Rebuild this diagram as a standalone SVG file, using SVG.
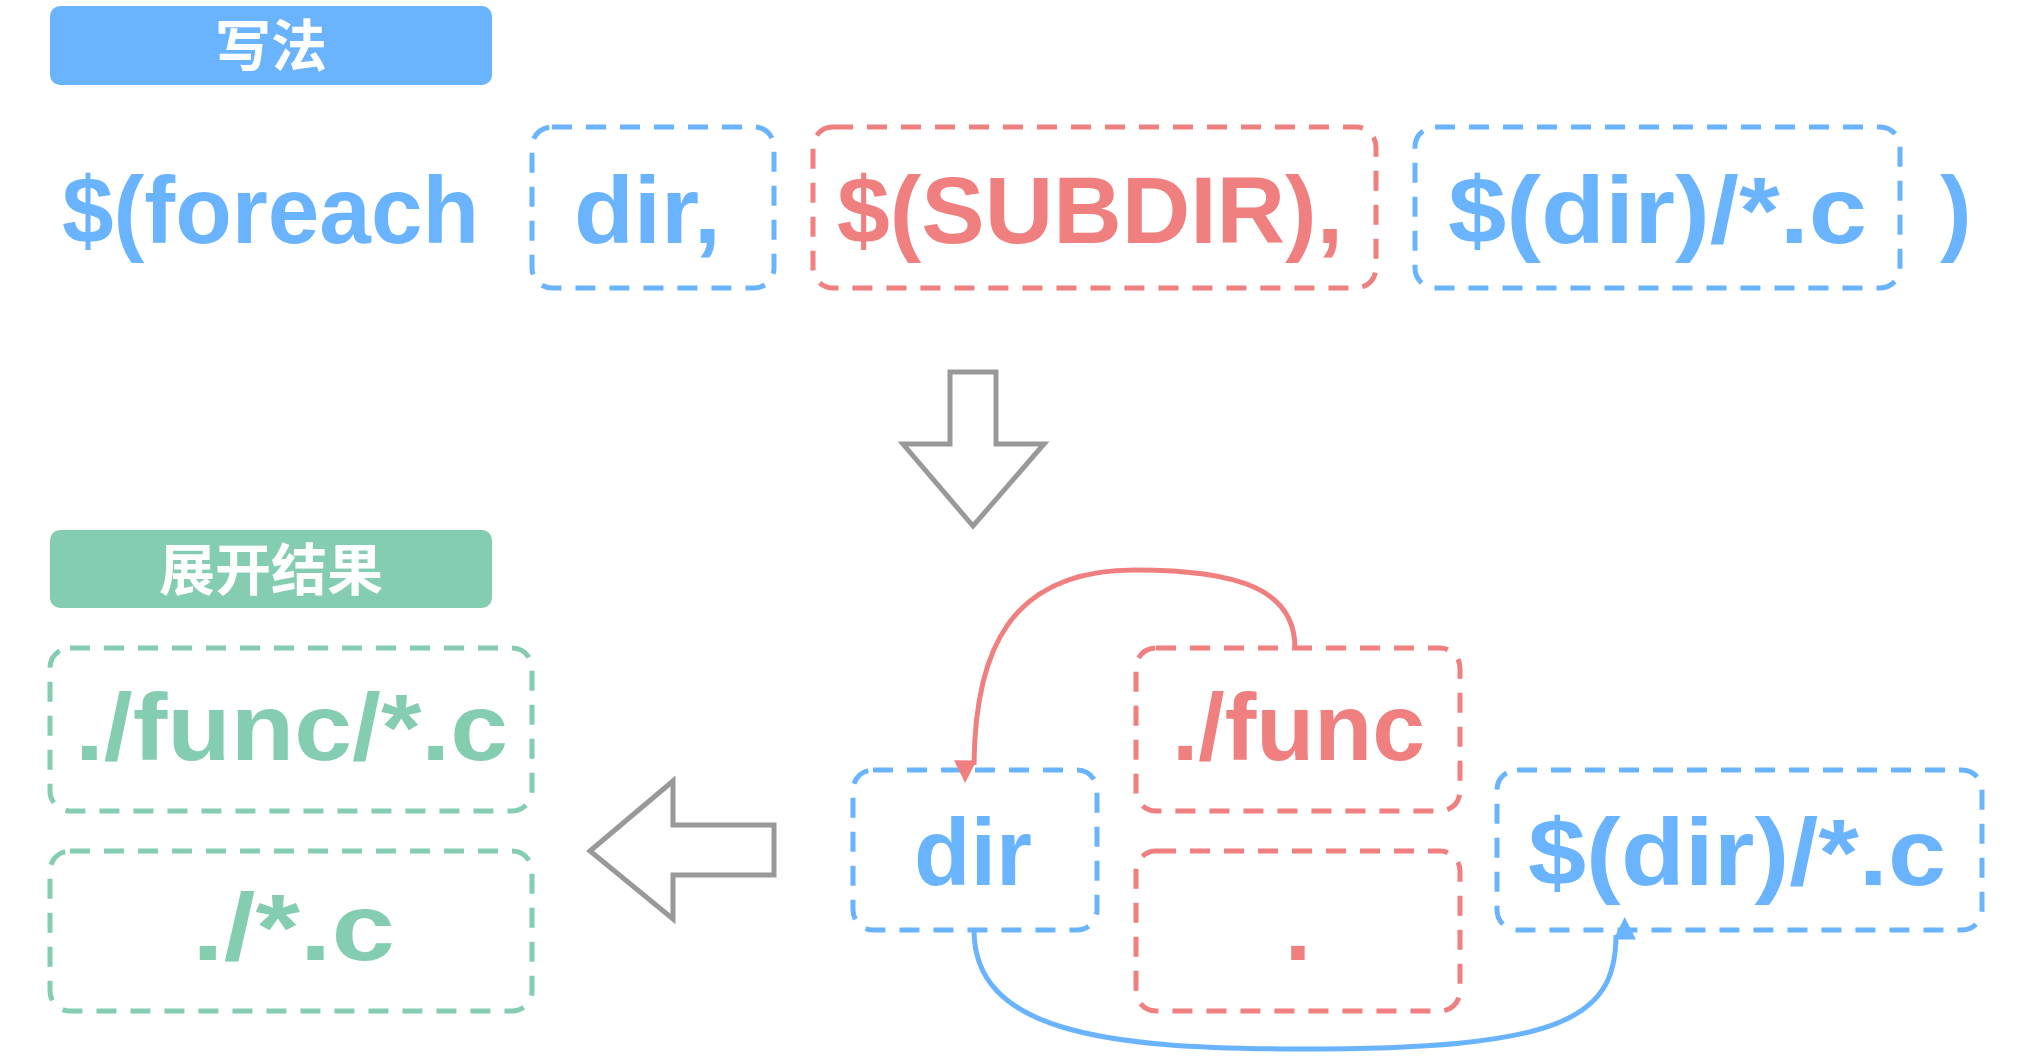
<svg xmlns="http://www.w3.org/2000/svg" width="2020" height="1056" viewBox="0 0 2020 1056">
<style>
.b{fill:none;stroke-width:5;stroke-dasharray:20 14}
.bl{stroke:#6AB4FF}.rd{stroke:#F08080}.gn{stroke:#84CDB0}
.t{font-family:"Liberation Sans",sans-serif;font-weight:bold;font-size:95px}
.h{font-family:"Noto Sans CJK SC",sans-serif;font-weight:bold;font-size:56px;fill:#fff;text-anchor:middle}
.fb{fill:#6AB4FF}.fr{fill:#F08080}.fg{fill:#84CDB0}
.ar{fill:#fff;stroke:#999;stroke-width:5}
</style>
<defs>
<marker id="mr" viewBox="0 0 10 10" refX="9" refY="5" markerWidth="5" markerHeight="5" orient="auto" markerUnits="userSpaceOnUse" style="overflow:visible"><path d="M0,0 L10,5 L0,10 Z" fill="#F08080" transform="scale(4.5)"/></marker>
<marker id="mb" viewBox="0 0 10 10" refX="9" refY="5" markerWidth="5" markerHeight="5" orient="auto" markerUnits="userSpaceOnUse" style="overflow:visible"><path d="M0,0 L10,5 L0,10 Z" fill="#6AB4FF" transform="scale(4.5)"/></marker>
</defs>
<g id="h1"><rect x="50" y="6" width="442" height="79" rx="10" fill="#6AB4FF"/><text class="h" x="271" y="66">写法</text></g>
<g id="foreach"><text class="t fb" x="62" y="243" textLength="417" lengthAdjust="spacingAndGlyphs">$(foreach</text></g>
<g id="dirarg"><rect class="b bl" x="532" y="127" width="242" height="161" rx="20"/><text class="t fb" x="574" y="243" textLength="147" lengthAdjust="spacingAndGlyphs">dir,</text></g>
<g id="subdir"><rect class="b rd" x="813" y="127" width="563" height="161" rx="20"/><text class="t fr" x="837" y="243" textLength="506" lengthAdjust="spacingAndGlyphs">$(SUBDIR),</text></g>
<g id="expr"><rect class="b bl" x="1415" y="127" width="485" height="161" rx="20"/><text class="t fb" x="1448" y="243" textLength="419" lengthAdjust="spacingAndGlyphs">$(dir)/*.c</text></g>
<g id="close"><text class="t fb" x="1940" y="243">)</text></g>
<g id="down"><path class="ar" d="M950,372 H996 V444 H1044 L973,526 L903,444 H950 Z"/></g>
<g id="h2"><rect x="50" y="530" width="442" height="78" rx="10" fill="#84CDB0"/><text class="h" x="271" y="590">展开结果</text></g>
<g id="r1"><rect class="b gn" x="50" y="648" width="482" height="163" rx="20"/><text class="t fg" x="75" y="760" textLength="433" lengthAdjust="spacingAndGlyphs">./func/*.c</text></g>
<g id="r2"><rect class="b gn" x="50" y="851" width="482" height="160" rx="20"/><text class="t fg" x="192" y="960" textLength="203" lengthAdjust="spacingAndGlyphs">./*.c</text></g>
<g id="left"><path class="ar" d="M590,851 L673,781 V825 H774 V875 H673 V919 Z"/></g>
<g id="dir"><rect class="b bl" x="853" y="770" width="244" height="160" rx="20"/><text class="t fb" x="914" y="885" textLength="118" lengthAdjust="spacingAndGlyphs">dir</text></g>
<g id="func"><rect class="b rd" x="1136" y="648" width="324" height="163" rx="20"/><text class="t fr" x="1172" y="760" textLength="253" lengthAdjust="spacingAndGlyphs">./func</text></g>
<g id="dot"><rect class="b rd" x="1136" y="851" width="324" height="160" rx="20"/><text class="t fr" x="1298" y="960" text-anchor="middle">.</text></g>
<g id="expr2"><rect class="b bl" x="1497" y="770" width="485" height="160" rx="20"/><text class="t fb" x="1528" y="885" textLength="418" lengthAdjust="spacingAndGlyphs">$(dir)/*.c</text></g>
<g id="connectors" fill="none" stroke-width="5">
<path d="M1295,648 C1295,590 1240,570 1135,570 C1010,570 975,650 974,765" stroke="#F08080" marker-end="url(#mr)"/>
<path d="M974,930 C974,1030 1100,1049 1300,1049 C1560,1049 1616,1020 1616,935" stroke="#6AB4FF" marker-end="url(#mb)"/>
</g>
</svg>
